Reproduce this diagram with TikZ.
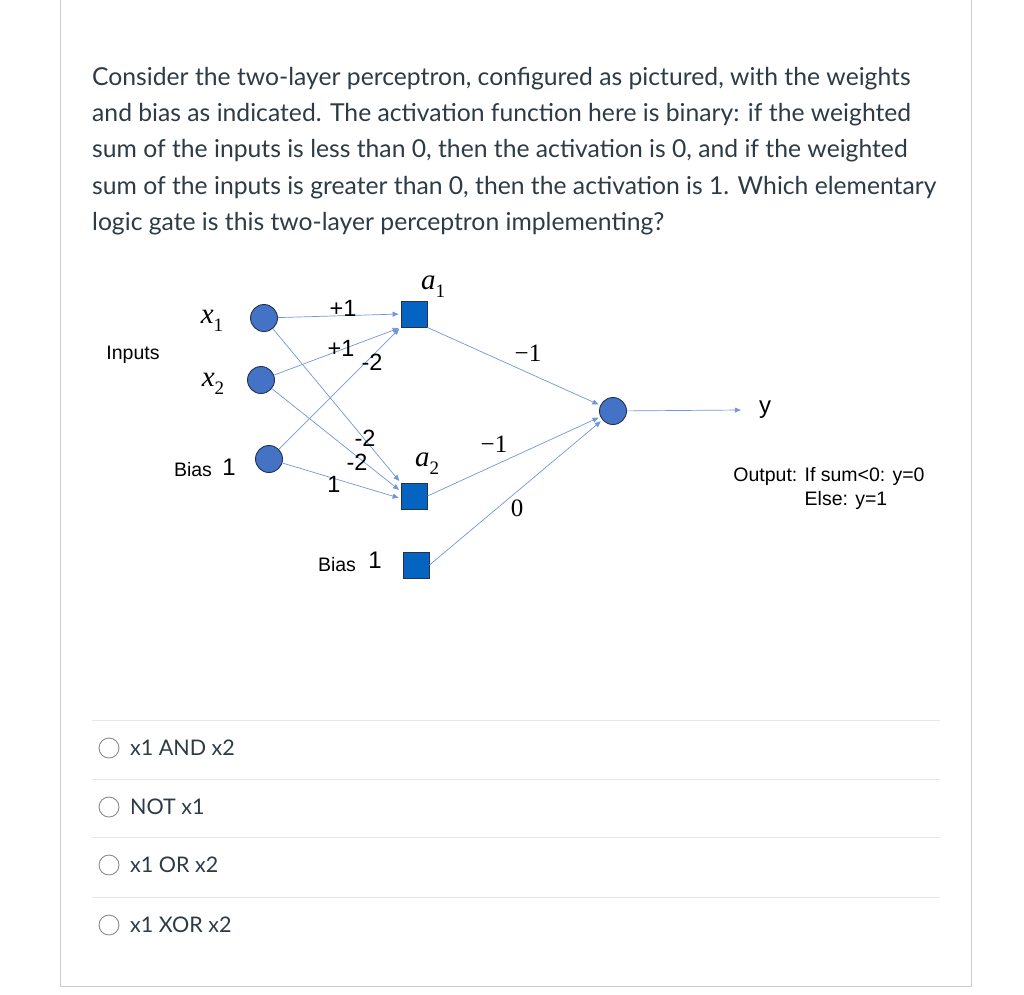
\documentclass[tikz,border=0pt]{standalone}
\usepackage{fontspec}
\setmainfont{Lato}
\newfontfamily\arialf{Liberation Sans}
\newfontfamily\serifm{Liberation Serif}
\usetikzlibrary{arrows.meta}

\definecolor{canvastext}{HTML}{2D3B45}
\definecolor{framegray}{HTML}{C7CDD1}
\definecolor{rulegray}{HTML}{E4E6E8}
\definecolor{radiogray}{HTML}{8A8A8A}
\definecolor{neuronblue}{HTML}{4472C4}
\definecolor{unitblue}{HTML}{0563C1}
\definecolor{nodeedge}{HTML}{24324F}
\definecolor{wireblue}{HTML}{6F97DA}

% italic letter with a subscript digit
\newcommand{\sublab}[2]{{\serifm\itshape #1}\raisebox{-0.28em}{\serifm\fontsize{19}{22}\selectfont #2}}

\tikzset{
  neuron/.style={circle,draw=nodeedge,fill=neuronblue,line width=0.9pt,minimum size=27pt,inner sep=0pt},
  unit/.style={rectangle,draw=nodeedge,fill=unitblue,line width=0.9pt,minimum size=26pt,inner sep=0pt},
  wire/.style={draw=wireblue,line width=0.7pt,-{Triangle[length=6pt,width=5pt]},shorten >=2pt},
  wlabel/.style={font=\arialf\fontsize{23.5}{28}\selectfont,inner sep=0pt},
  tlabel/.style={font=\arialf\fontsize{19.5}{23}\selectfont,inner sep=0pt},
  olabel/.style={font=\serifm\fontsize{25}{29}\selectfont,inner sep=0pt},
  mlabel/.style={font=\fontsize{29}{33}\selectfont,inner sep=0pt},
  qline/.style={anchor=base west,inner sep=0pt,text=canvastext,font=\fontsize{24.7}{30}\selectfont},
  radio/.style={circle,draw=radiogray,line width=0.9pt,minimum size=20pt,inner sep=0pt},
  answer/.style={anchor=west,inner sep=0pt,text=canvastext,font=\fontsize{21.5}{25}\selectfont}
}

\begin{document}
\begin{tikzpicture}[x=1pt,y=-1pt]
\useasboundingbox (0,0) rectangle (1024,994);

% frame
\draw[framegray,line width=1pt] (60,0) -- (60,986) -- (971,986) -- (971,0);

% question
\node[qline] (q1) at (92,85.7) {Consider the two-layer perceptron, configured as pictured, with the weights};
\node[qline] (q2) at (92,121.7) {and bias as indicated. The activation function here is binary: if the weighted};
\node[qline] (q3) at (92,157.7) {sum of the inputs is less than 0, then the activation is 0, and if the weighted};
\node[qline] (q4) at (92,194) {sum of the inputs is greater than 0, then the activation is 1. Which elementary};
\node[qline] (q5) at (92,230) {logic gate is this two-layer perceptron implementing?};

% network
\node[neuron] (x1) at (264,318) {};
\node[neuron] (x2) at (261,380) {};
\node[neuron] (b1) at (269,459) {};
\node[unit] (a1) at (414,314) {};
\node[unit] (a2) at (414,496) {};
\node[unit] (b2) at (416,565) {};
\node[neuron] (out) at (613,411) {};

\node[tlabel] (inputs) at (133,355) {Inputs};
\node[mlabel] (x1lab) at (212,321) {\sublab{x}{1}};
\node[mlabel] (x2lab) at (213,384) {\sublab{x}{2}};
\node[tlabel] (bias1) at (193,470) {Bias};
\node[wlabel,font=\arialf\fontsize{24}{28}\selectfont] (one1) at (229,467) {1};
\node[tlabel] (bias2) at (337,565) {Bias};
\node[wlabel,font=\arialf\fontsize{24}{28}\selectfont] (one2) at (375,560) {1};
\node[mlabel] (a1lab) at (433,287) {\sublab{a}{1}};
\node[mlabel] (a2lab) at (427,464) {\sublab{a}{2}};

\draw[wire] (x1) -- (a1.west);
\draw[wire] (x2) -- (a1.south west);
\draw[wire] (b1) -- (a1.south west);
\draw[wire] (x1) -- (a2.north west);
\draw[wire] (x2) -- (a2.160);
\draw[wire] (b1) -- (a2.190);

\node[wlabel] (w11) at (343,308) {+1};
\node[wlabel] (w21) at (341,348) {+1};
\node[wlabel] (wb1) at (372,362) {-2};
\node[wlabel] (w12) at (365,438) {-2};
\node[wlabel] (w22) at (357,462) {-2};
\node[wlabel] (wb2) at (334,484) {1};

\draw[wire] (a1.south east) -- (out);
\draw[wire] (a2.east) -- (out);
\draw[wire] (b2.east) -- (out);

\node[olabel] (v1) at (528,353) {\char"2212 1};
\node[olabel] (v2) at (494,444) {\char"2212 1};
\node[olabel] (v3) at (517,508) {0};

\node[wlabel,font=\arialf\fontsize{24}{28}\selectfont] (ylab) at (765,410) {y};
\draw[wire,shorten >=0pt] (out) -- ([xshift=-18pt]ylab.west);
\node[tlabel] (rule1) at (829,476) {Output: If sum<0: y=0};
\node[tlabel] (rule2) at (846,500) {Else: y=1};

% answers
\draw[rulegray,line width=1pt] (92,720) -- (940,720);
\draw[rulegray,line width=1pt] (92,779) -- (940,779);
\draw[rulegray,line width=1pt] (92,837) -- (940,837);
\draw[rulegray,line width=1pt] (92,897) -- (940,897);

\node[radio] (r1) at (109,748) {};
\node[answer] (o1) at (130,748) {x1 AND x2};
\node[radio] (r2) at (109,807) {};
\node[answer] (o2) at (130,807) {NOT x1};
\node[radio] (r3) at (109,865) {};
\node[answer] (o3) at (130,865) {x1 OR x2};
\node[radio] (r4) at (109,925) {};
\node[answer] (o4) at (130,925) {x1 XOR x2};

\end{tikzpicture}
\end{document}
